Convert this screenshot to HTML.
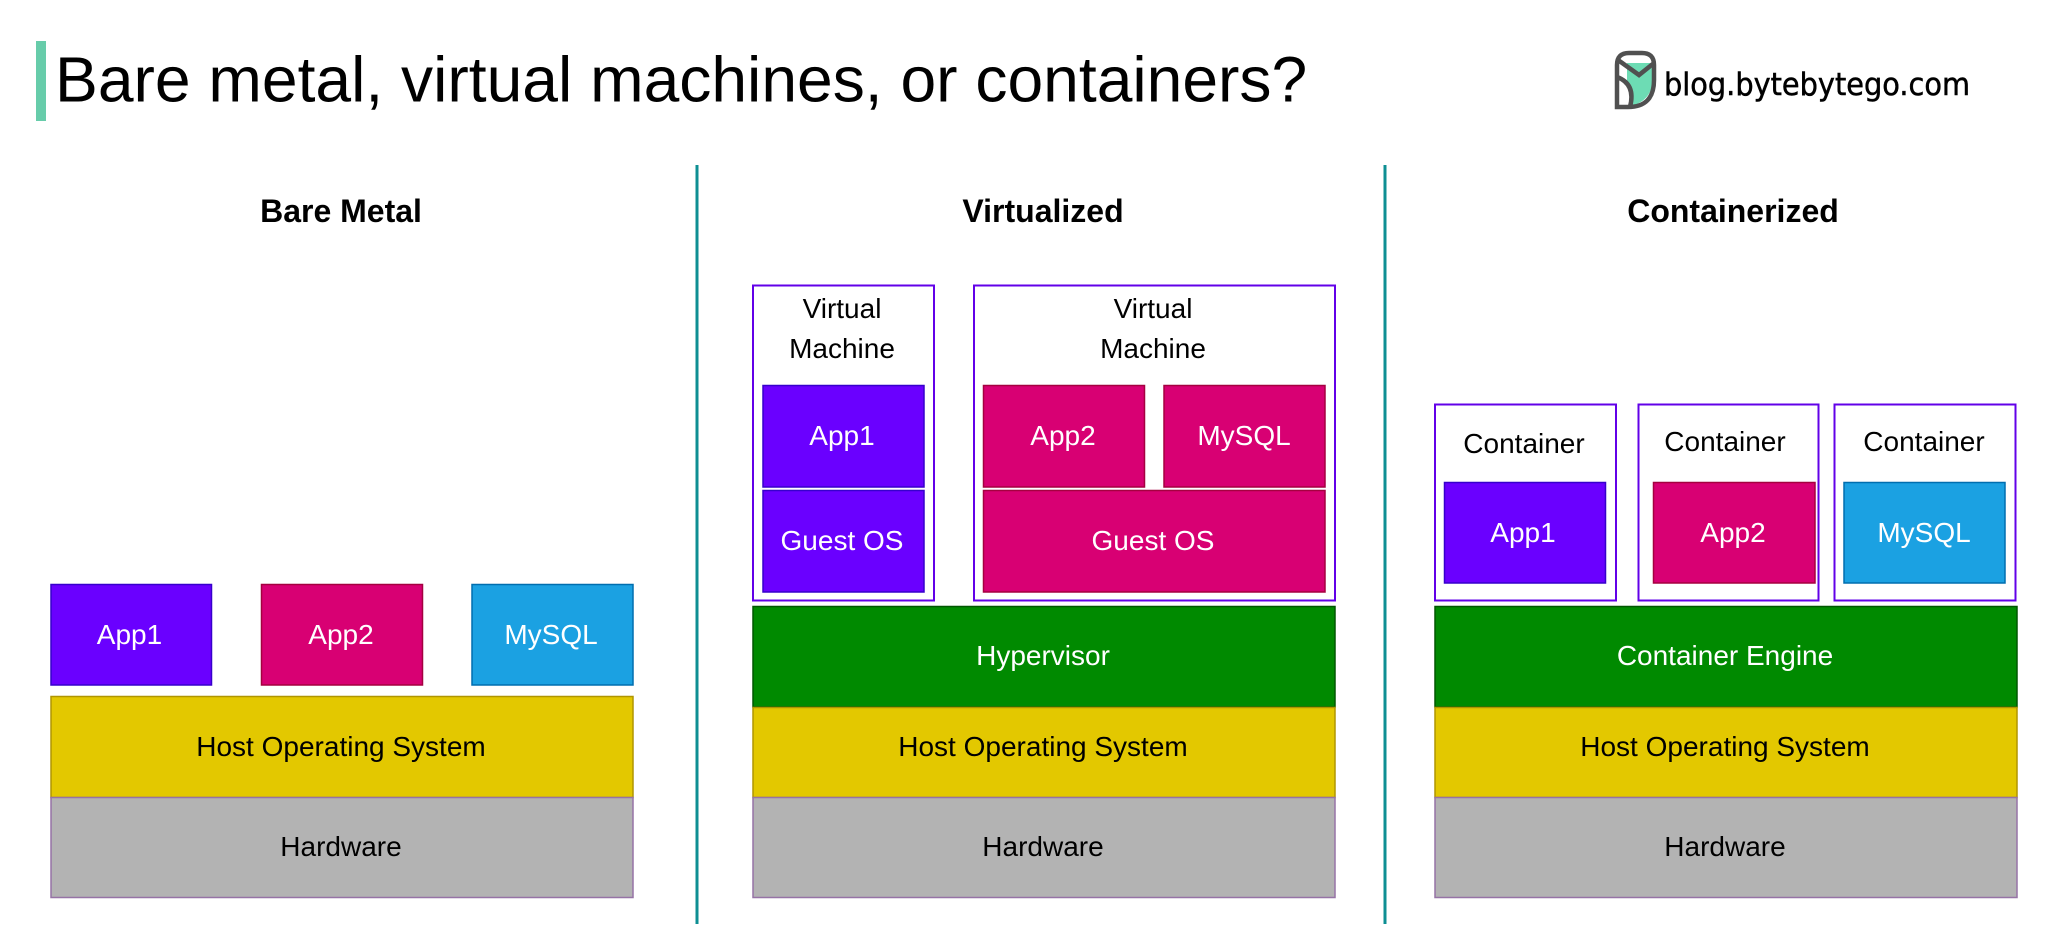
<!DOCTYPE html>
<html>
<head>
<meta charset="utf-8">
<style>
html,body{margin:0;padding:0;background:#fff;width:2048px;height:929px;overflow:hidden}
svg{display:block}
text{font-family:"Liberation Sans",Arial,sans-serif;text-anchor:middle;font-size:28px;fill:#000}
.w{fill:#fff}
.h{font-weight:bold;font-size:32px}
.pu{fill:#6a00ff;stroke:#3700cc;stroke-width:1.5}
.pi{fill:#d80073;stroke:#a50040;stroke-width:1.5}
.bl{fill:#1ba1e2;stroke:#006eaf;stroke-width:1.5}
.ye{fill:#e3c800;stroke:#b09500;stroke-width:1.5}
.gr{fill:#008a00;stroke:#005700;stroke-width:1.5}
.ha{fill:#b3b3b3;stroke:#9673a6;stroke-width:1.5}
.c{fill:#fff;stroke:#6200e8;stroke-width:2}
</style>
</head>
<body>
<svg width="2048" height="929" viewBox="0 0 2048 929" xmlns="http://www.w3.org/2000/svg">
<rect x="0" y="0" width="2048" height="929" fill="#fff"/>

<!-- Title -->
<rect x="36" y="41" width="10" height="80" fill="#67ccaa"/>
<text x="55" y="101.5" style="text-anchor:start;font-size:64.2px">Bare metal, virtual machines, or containers?</text>

<!-- Logo -->
<path d="M1627 63 L1653 63 L1653 82 Q1650 100 1634 105 L1631 105 Q1632 92 1627 85 Z" fill="#6ddcb4"/>
<path d="M1629 53 L1642 53 Q1654 53 1654 65 L1654 80 Q1654 107 1628 107 L1617 107 L1617 65 Q1617 53 1629 53 Z" fill="none" stroke="#505050" stroke-width="4.5"/>
<path d="M1618 60 L1639 75 L1654 63" fill="none" stroke="#505050" stroke-width="4.5"/>
<path d="M1617 77 Q1636 84 1630 107" fill="none" stroke="#505050" stroke-width="4.5"/>
<text x="1817" y="95" textLength="306" lengthAdjust="spacingAndGlyphs" style="font-family:'DejaVu Sans',sans-serif;font-size:31px;stroke:#000;stroke-width:.5">blog.bytebytego.com</text>

<!-- Dividers -->
<rect x="695.5" y="165" width="3" height="759" fill="#0e8f93"/>
<rect x="1383.5" y="165" width="3" height="759" fill="#0e8f93"/>

<!-- Headers -->
<text class="h" x="341" y="222">Bare Metal</text>
<text class="h" x="1043" y="222">Virtualized</text>
<text class="h" x="1733" y="222">Containerized</text>

<!-- Column 1 -->
<rect class="pu" x="51" y="584.5" width="160.5" height="100.5"/>
<text class="w" x="129.5" y="644">App1</text>
<rect class="pi" x="261.5" y="584.5" width="161" height="100.5"/>
<text class="w" x="341" y="644">App2</text>
<rect class="bl" x="472" y="584.5" width="161" height="100.5"/>
<text class="w" x="551" y="644">MySQL</text>
<rect class="ye" x="51" y="696.5" width="582" height="101"/>
<text x="341" y="756">Host Operating System</text>
<rect class="ha" x="51" y="797.5" width="582" height="100"/>
<text x="341" y="856">Hardware</text>

<!-- Column 2 -->
<rect class="c" x="753" y="285.5" width="181" height="315"/>
<text x="842" y="318">Virtual</text>
<text x="842" y="358">Machine</text>
<rect class="pu" x="763" y="385.5" width="161" height="101.5"/>
<text class="w" x="842" y="445">App1</text>
<rect class="pu" x="763" y="490.5" width="161" height="101.5"/>
<text class="w" x="842" y="550">Guest OS</text>
<rect class="c" x="974" y="285.5" width="361" height="315"/>
<text x="1153" y="318">Virtual</text>
<text x="1153" y="358">Machine</text>
<rect class="pi" x="983.5" y="385.5" width="161" height="101.5"/>
<text class="w" x="1063" y="445">App2</text>
<rect class="pi" x="1164" y="385.5" width="161" height="101.5"/>
<text class="w" x="1244" y="445">MySQL</text>
<rect class="pi" x="983.5" y="490.5" width="341.5" height="101.5"/>
<text class="w" x="1153" y="550">Guest OS</text>
<rect class="gr" x="753" y="606.5" width="582" height="100.5"/>
<text class="w" x="1043" y="665">Hypervisor</text>
<rect class="ye" x="753" y="707.5" width="582" height="90"/>
<text x="1043" y="756">Host Operating System</text>
<rect class="ha" x="753" y="797.5" width="582" height="100"/>
<text x="1043" y="856">Hardware</text>

<!-- Column 3 -->
<rect class="c" x="1435" y="404.5" width="181" height="196"/>
<text x="1524" y="453">Container</text>
<rect class="pu" x="1444.5" y="482.5" width="161" height="100.5"/>
<text class="w" x="1523" y="542">App1</text>
<rect class="c" x="1638.5" y="404.5" width="180" height="196"/>
<text x="1725" y="451">Container</text>
<rect class="pi" x="1653.5" y="482.5" width="161.5" height="100.5"/>
<text class="w" x="1733" y="542">App2</text>
<rect class="c" x="1834.5" y="404.5" width="181" height="196"/>
<text x="1924" y="451">Container</text>
<rect class="bl" x="1844" y="482.5" width="161" height="100.5"/>
<text class="w" x="1924" y="542">MySQL</text>
<rect class="gr" x="1435" y="606.5" width="582" height="100.5"/>
<text class="w" x="1725" y="665">Container Engine</text>
<rect class="ye" x="1435" y="707.5" width="582" height="90"/>
<text x="1725" y="756">Host Operating System</text>
<rect class="ha" x="1435" y="797.5" width="582" height="100"/>
<text x="1725" y="856">Hardware</text>
</svg>
</body>
</html>
